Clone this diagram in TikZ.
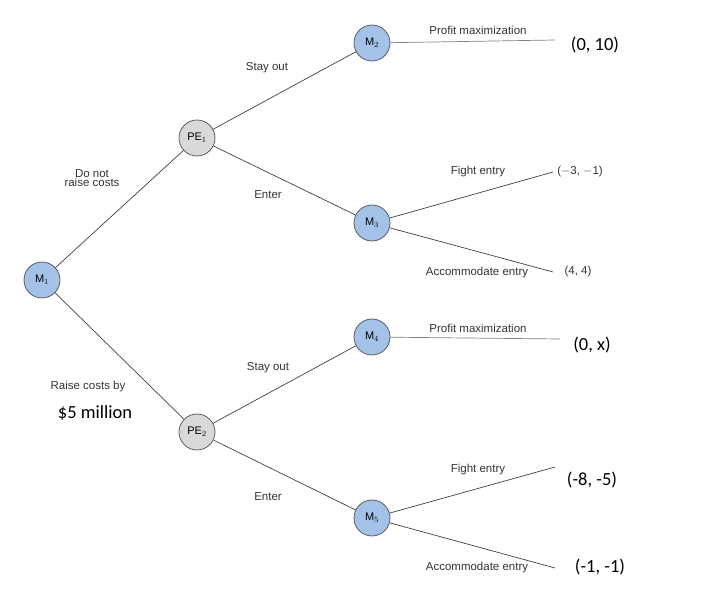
\documentclass[tikz,border=0pt]{standalone}
\usepackage{fontspec}
\setmainfont{Liberation Sans}
\newfontfamily\payfont{Carlito}
\definecolor{nodeblue}{HTML}{A4C2E8}
\begin{document}
\begin{tikzpicture}[x=1pt,y=-1pt,
  mn/.style={circle,draw=black!70,line width=0.7pt,fill=nodeblue,minimum size=36pt,inner sep=0pt,font=\fontsize{11}{12}\selectfont},
  pn/.style={mn,fill=black!15},
  lab/.style={font=\fontsize{11.5}{12}\selectfont,text=black!80,align=center},
  pay/.style={font=\payfont\fontsize{18.5}{20}\selectfont},
  spay/.style={font=\fontsize{11.5}{12}\selectfont,text=black!80},
  ln/.style={draw=black!75,line width=0.7pt}]
\useasboundingbox (0,0) rectangle (705,593);
\node[mn] (m1) at (42,280) {M$_1$};
\node[pn] (pe1) at (197,138) {PE$_1$};
\node[pn] (pe2) at (197,432) {PE$_2$};
\node[mn] (m2) at (372,43) {M$_2$};
\node[mn] (m3) at (372,223) {M$_3$};
\node[mn] (m4) at (372,337) {M$_4$};
\node[mn] (m5) at (372,518) {M$_5$};
\coordinate (e2) at (555,40);
\coordinate (e3a) at (553,172);
\coordinate (e3b) at (553,272);
\coordinate (e4) at (560,339);
\coordinate (e5a) at (555,467);
\coordinate (e5b) at (555,568);
\draw[ln] (m1) -- (pe1);
\draw[ln] (m1) -- (pe2);
\draw[ln] (pe1) -- (m2);
\draw[ln] (pe1) -- (m3);
\draw[ln] (pe2) -- (m4);
\draw[ln] (pe2) -- (m5);
\draw[ln,draw=black!50] (m2) -- (e2);
\draw[ln] (m3) -- (e3a);
\draw[ln] (m3) -- (e3b);
\draw[ln,draw=black!50] (m4) -- (e4);
\draw[ln] (m5) -- (e5a);
\draw[ln] (m5) -- (e5b);
\node[lab] (l1) at (267,68) {Stay out};
\node[lab] (l2) at (92,178) {Do not\\[-3pt]raise costs};
\node[lab] (l3) at (268,195) {Enter};
\node[lab] (l4) at (478,172) {Fight entry};
\node[lab] (l5) at (477,273) {Accommodate entry};
\node[lab] (l6) at (478,30) {Profit maximization};
\node[lab] (l7) at (268,368) {Stay out};
\node[lab] (l8) at (88,387) {Raise costs by};
\node[pay] (l9) at (95,413) {\$5 million};
\node[lab] (l10) at (268,497) {Enter};
\node[lab] (l11) at (478,470) {Fight entry};
\node[lab] (l12) at (477,568) {Accommodate entry};
\node[lab] (l13) at (478,328) {Profit maximization};
\node[pay] (p2) at (595,45) {(0, 10)};
\node[spay] (p3a) at (580,172) {($-$3, $-$1)};
\node[spay] (p3b) at (578,272) {(4, 4)};
\node[pay] (p4) at (592,345) {(0, x)};
\node[pay] (p5a) at (592,480) {(-8, -5)};
\node[pay] (p5b) at (600,567) {(-1, -1)};
\end{tikzpicture}
\end{document}
